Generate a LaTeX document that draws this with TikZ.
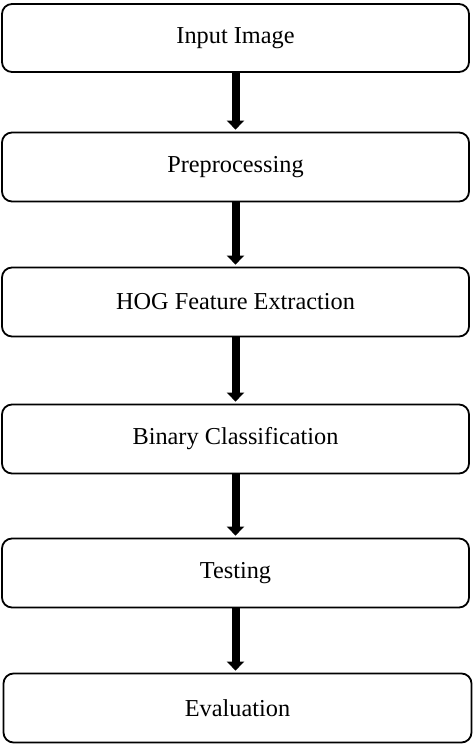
\documentclass[tikz,border=0pt]{standalone}
\usepackage{fontspec}
\setmainfont{Liberation Serif}
\usetikzlibrary{arrows.meta}
\begin{document}
\begin{tikzpicture}[x=1pt,y=-1pt,
  stepbox/.style={draw=black, line width=1.8pt, rounded corners=10pt, minimum width=467pt, minimum height=68pt, inner sep=0pt, font=\fontsize{24.3}{29}\selectfont, fill=white},
  flowarrow/.style={line width=8pt, -{Triangle[width=17pt,length=9pt]}, shorten >=2pt}]
\useasboundingbox (0,0) rectangle (474,745);
\node[stepbox] (b1) at (235.5,38) {Input Image};
\node[stepbox, minimum height=69pt] (b2) at (235.5,167) {Preprocessing};
\node[stepbox, minimum height=69pt] (b3) at (235.5,302) {HOG Feature Extraction};
\node[stepbox, minimum height=69pt] (b4) at (235.5,439) {Binary Classification};
\node[stepbox, minimum height=69pt] (b5) at (235.5,573) {Testing};
\node[stepbox, minimum height=69pt, minimum width=468pt] (b6) at (237.5,708) {Evaluation};
\draw[flowarrow] (b1.south) -- (b2.north);
\draw[flowarrow] (b2.south) -- (b3.north);
\draw[flowarrow] (b3.south) -- (b4.north);
\draw[flowarrow] (b4.south) -- (b5.north);
\draw[flowarrow] (b5.south) -- (b5.south |- b6.north);
\end{tikzpicture}
\end{document}
